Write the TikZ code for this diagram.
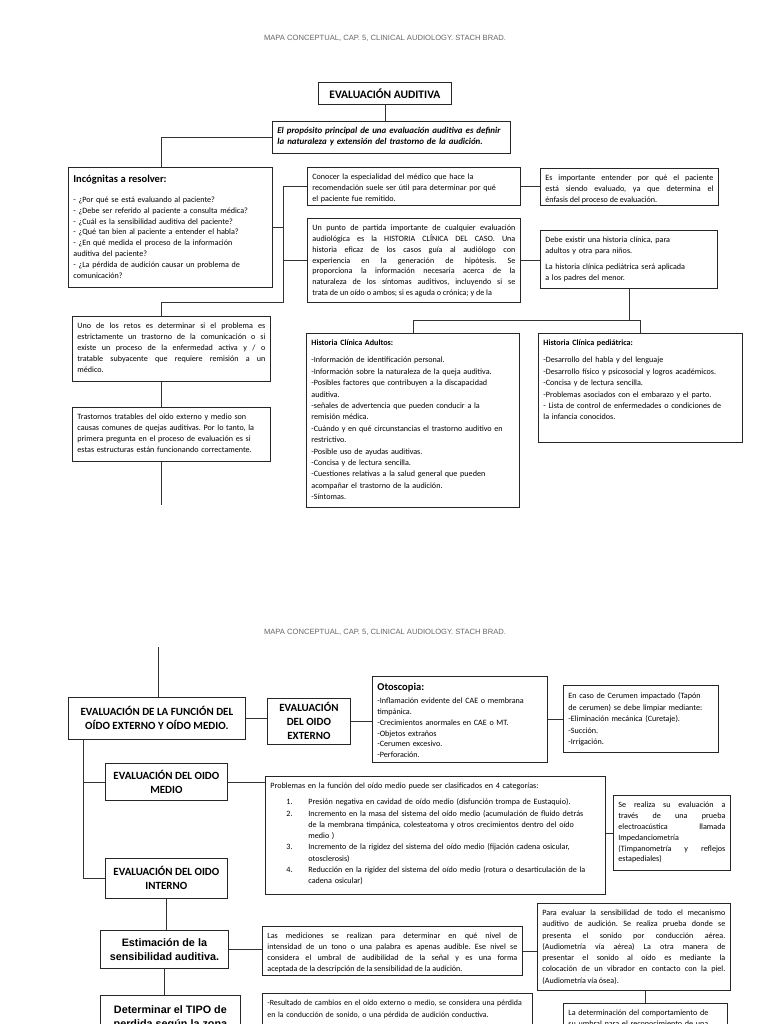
\documentclass[tikz,border=0pt]{standalone}
\usepackage{fontspec}
\setmainfont{Carlito}
\newfontfamily\arialfont{Liberation Sans}
\usetikzlibrary{positioning, calc}
\frenchspacing

\tikzset{
  box/.style={draw=black!85, line width=0.8pt, anchor=north west, inner xsep=5pt, inner ysep=5pt,
              align=left, text height=7pt, font=\fontsize{8.1}{10.9}\selectfont},
  jbox/.style={box, align=justify},
  head/.style={draw=black!85, line width=0.8pt, anchor=north west, align=center, inner sep=1pt,
               font=\bfseries\fontsize{11}{14}\selectfont},
  ahead/.style={head, font=\arialfont\bfseries\fontsize{10.8}{14}\selectfont},
  link/.style={draw=black!80, line width=0.8pt},
  pagehdr/.style={font=\arialfont\fontsize{7.6}{8}\selectfont, text=black!60},
}

\begin{document}
\begin{tikzpicture}[x=1pt, y=-1pt]
  \useasboundingbox (0,0) rectangle (768,1024);
  \fill[white] (0,0) rectangle (768,1024);
  \clip (0,0) rectangle (768,1024);

  % primera hoja
  \node[pagehdr] (hdr1) at (385,38) {MAPA CONCEPTUAL, CAP. 5, CLINICAL AUDIOLOGY. STACH BRAD.};
  \node[head, minimum width=133pt, minimum height=22pt, font=\bfseries\fontsize{11.5}{14}\selectfont] (title) at (318,82) {EVALUACIÓN AUDITIVA};
  \node[box, text width=228pt, text depth=15pt, font=\bfseries\itshape\fontsize{8.9}{11}\selectfont] (prop) at (272,121)
    {El propósito principal de una evaluación auditiva es definir\\la naturaleza y extensión del trastorno de la audición.};
  \node[box, text width=194pt, text height=10pt, text depth=100pt] (incog) at (68,167)
    {{\bfseries\fontsize{10.5}{12}\selectfont Incógnitas a resolver:}\\[9pt]
     - ¿Por qué se está evaluando al paciente?\\
     - ¿Debe ser referido al paciente a consulta médica?\\
     - ¿Cuál es la sensibilidad auditiva del paciente?\\
     - ¿Qué tan bien al paciente a entender el habla?\\
     - ¿En qué medida el proceso de la información\\
     auditiva del paciente?\\
     - ¿La pérdida de audición causar un problema de\\
     comunicación?};
  \node[box, text width=203pt, text depth=21pt] (conocer) at (307,167)
    {Conocer la especialidad del médico que hace la\\
     recomendación suele ser útil para determinar por qué\\
     el paciente fue remitido.};
  \node[jbox, text width=168pt, text depth=20pt] (esimp) at (540,168)
    {Es importante entender por qué el paciente\linebreak
     está siendo evaluado, ya que determina el\linebreak
     énfasis del proceso de evaluación.};
  \node[jbox, text width=203pt, text depth=67pt] (punto) at (307,218)
    {Un punto de partida importante de cualquier evaluación\linebreak
     audiológica es la HISTORIA CLÍNICA DEL CASO. Una\linebreak
     historia eficaz de los casos guía al audiólogo con\linebreak
     experiencia en la generación de hipótesis. Se\linebreak
     proporciona la información necesaria acerca de la\linebreak
     naturaleza de los síntomas auditivos, incluyendo si se\linebreak
     trata de un oído o ambos; si es aguda o crónica; y de la};
  \node[box, text width=167pt, text depth=41pt] (debe) at (540,230)
    {Debe existir una historia clínica, para\\
     adultos y otra para niños.\\[5pt]
     La historia clínica pediátrica será aplicada\\
     a los padres del menor.};
  \node[box, text width=203pt, text depth=157pt, font=\fontsize{8.1}{11.4}\selectfont] (adult) at (306,333)
    {{\bfseries Historia Clínica Adultos:}\\[6pt]
     -Información de identificación personal.\\
     -Información sobre la naturaleza de la queja auditiva.\\
     -Posibles factores que contribuyen a la discapacidad\\
     auditiva.\\
     -señales de advertencia que pueden conducir a la\\
     remisión médica.\\
     -Cuándo y en qué circunstancias el trastorno auditivo en\\
     restrictivo.\\
     -Posible uso de ayudas auditivas.\\
     -Concisa y de lectura sencilla.\\
     -Cuestiones relativas a la salud general que pueden\\
     acompañar el trastorno de la audición.\\
     -Síntomas.};
  \node[box, text width=194pt, text depth=92pt, font=\fontsize{8.1}{11.4}\selectfont] (pedi) at (538,333)
    {{\bfseries Historia Clínica pediátrica:}\\[6pt]
     -Desarrollo del habla y del lenguaje\\
     -Desarrollo físico y psicosocial y logros académicos.\\
     -Concisa y de lectura sencilla.\\
     -Problemas asociados con el embarazo y el parto.\\
     - Lista de control de enfermedades o condiciones de\\
     la infancia conocidos.};
  \node[jbox, text width=188pt, text depth=48pt] (retos) at (72,316)
    {Uno de los retos es determinar si el problema es\linebreak
     estrictamente un trastorno de la comunicación o si\linebreak
     existe un proceso de la enfermedad activa y / o\linebreak
     tratable subyacente que requiere remisión a un\linebreak
     médico.};
  \node[box, text width=188pt, text depth=37pt] (trast) at (72,407)
    {Trastornos tratables del oído externo y medio son\\
     causas comunes de quejas auditivas. Por lo tanto, la\\
     primera pregunta en el proceso de evaluación es si\\
     estas estructuras están funcionando correctamente.};

  \draw[link] (title.south) -- (title.south |- prop.north);
  \coordinate (lx) at (161,0);
  \draw[link] (prop.west) -| (lx |- incog.north);
  \coordinate (spine) at (283,302);
  \draw[link] (incog.east) -- (incog.east -| spine);
  \draw[link] (conocer.west) -| (spine) -| (lx |- retos.north);
  \draw[link] (punto.west) -- (punto.west -| spine);
  \draw[link] (conocer.east) -- (conocer.east -| esimp.west);
  \draw[link] (punto.east) -- (punto.east -| debe.west);
  \coordinate (hbar) at (628,320);
  \draw[link] (debe.south) -- (debe.south |- hbar);
  \draw[link] (adult.north) -- (adult.north |- hbar) -| (pedi.north);
  \draw[link] (lx |- retos.south) -- (lx |- trast.north);
  \coordinate (tend) at (161,505);
  \draw[link] (lx |- trast.south) -- (tend);

  % segunda hoja
  \node[pagehdr] (hdr2) at (385,632) {MAPA CONCEPTUAL, CAP. 5, CLINICAL AUDIOLOGY. STACH BRAD.};
  \node[head, minimum width=177pt, minimum height=42pt] (boxA) at (68,697)
    {EVALUACIÓN DE LA FUNCIÓN DEL\\OÍDO EXTERNO Y OÍDO MEDIO.};
  \node[head, minimum width=83pt, minimum height=46pt] (boxB) at (267,698)
    {EVALUACIÓN\\DEL OIDO\\EXTERNO};
  \node[box, text width=165pt, text height=9pt, text depth=67pt] (oto) at (372,676)
    {{\bfseries\fontsize{10.5}{12}\selectfont Otoscopia:}\\[2pt]
     -Inflamación evidente del CAE o membrana\\
     timpánica.\\
     -Crecimientos anormales en CAE o MT.\\
     -Objetos extraños\\
     -Cerumen excesivo.\\
     -Perforación.};
  \node[box, text width=145pt, text height=8pt, text depth=49pt, font=\fontsize{8.1}{11.6}\selectfont] (cer) at (563,685)
    {En caso de Cerumen impactado (Tapón\\
     de cerumen) se debe limpiar mediante:\\
     -Eliminación mecánica (Curetaje).\\
     -Succión.\\
     -Irrigación.};
  \node[head, minimum width=122pt, minimum height=37pt] (boxC) at (105,763)
    {EVALUACIÓN DEL OIDO\\MEDIO};
  \node[box, text width=330pt, text depth=101pt, font=\fontsize{8.1}{11.3}\selectfont] (prob) at (265,776)
    {Problemas en la función del oído medio puede ser clasificados en 4 categorías:\\[6pt]
     \hspace*{16pt}\begin{tabular}{@{}p{22pt}@{}p{289pt}@{}}
     1. & Presión negativa en cavidad de oído medio (disfunción trompa de Eustaquio).\\
     2. & Incremento en la masa del sistema del oído medio (acumulación de fluido detrás\linebreak
          de la membrana timpánica, colesteatoma y otros crecimientos dentro del oído\linebreak
          medio )\\
     3. & Incremento de la rigidez del sistema del oído medio (fijación cadena osicular,\newline
          otosclerosis)\\
     4. & Reducción en la rigidez del sistema del oído medio (rotura o desarticulación de la\linebreak
          cadena osicular)
     \end{tabular}};
  \node[jbox, text width=107pt, text depth=58pt] (realiza) at (613,795)
    {Se realiza su evaluación a\linebreak
     través de una prueba\linebreak
     electroacústica llamada\linebreak
     Impedanciometría\\
     (Timpanometría y reflejos\linebreak
     estapediales)};
  \node[head, minimum width=122pt, minimum height=40pt] (boxD) at (105,858)
    {EVALUACIÓN DEL OIDO\\INTERNO};
  \node[ahead, minimum width=128pt, minimum height=38pt] (boxE) at (100,930)
    {Estimación de la\\sensibilidad auditiva.};
  \node[jbox, text width=250pt, text depth=32pt] (med) at (262,926)
    {Las mediciones se realizan para determinar en qué nivel de\linebreak
     intensidad de un tono o una palabra es apenas audible. Ese nivel se\linebreak
     considera el umbral de audibilidad de la señal y es una forma\linebreak
     aceptada de la descripción de la sensibilidad de la audición.};
  \node[jbox, text width=183pt, text depth=70pt, font=\fontsize{8.1}{11.3}\selectfont] (para) at (537,903)
    {Para evaluar la sensibilidad de todo el mecanismo\linebreak
     auditivo de audición. Se realiza prueba donde se\linebreak
     presenta el sonido por conducción aérea.\linebreak
     (Audiometría vía aérea) La otra manera de\linebreak
     presentar el sonido al oído es mediante la\linebreak
     colocación de un vibrador en contacto con la piel.\linebreak
     (Audiometría vía ósea).};
  \node[box, text width=154pt, text depth=43pt] (det) at (563,1003)
    {La determinación del comportamiento de\\
     su umbral para el reconocimiento de una};
  \node[ahead, minimum width=140pt, minimum height=45pt] (boxF) at (100,995)
    {Determinar el TIPO de\\perdida según la zona};
  \node[box, text width=260pt, text height=7pt, text depth=43pt, font=\fontsize{7.9}{12}\selectfont] (res) at (262,993)
    {-Resultado de cambios en el oído externo o medio, se considera una pérdida\\
     en la conducción de sonido, o una pérdida de audición conductiva.};

  \coordinate (ptop) at (158,647);
  \draw[link] (ptop) -- (ptop |- boxA.north);
  \draw[link] (boxA.east) -- (boxA.east -| boxB.west);
  \draw[link] (boxB.east) -- (boxB.east -| oto.west);
  \draw[link] (oto.east) -- (oto.east -| cer.west);
  \coordinate (spa) at ($(boxA.south west)+(15,0)$);
  \draw[link] (spa) |- (boxD.west);
  \draw[link] (boxC.west) -- (boxC.west -| spa);
  \draw[link] (boxC.east) -- (boxC.east -| prob.west);
  \draw[link] (realiza.west) -- (realiza.west -| prob.east);
  \draw[link] (boxD.south) -- (boxD.south |- boxE.north);
  \draw[link] (boxE.east) -- (boxE.east -| med.west);
  \draw[link] (med.east) -- (med.east -| para.west);
  \draw[link] (det.north) -- (det.north |- para.south);
  \draw[link] (boxE.south) -- (boxE.south |- boxF.north);
\end{tikzpicture}
\end{document}
